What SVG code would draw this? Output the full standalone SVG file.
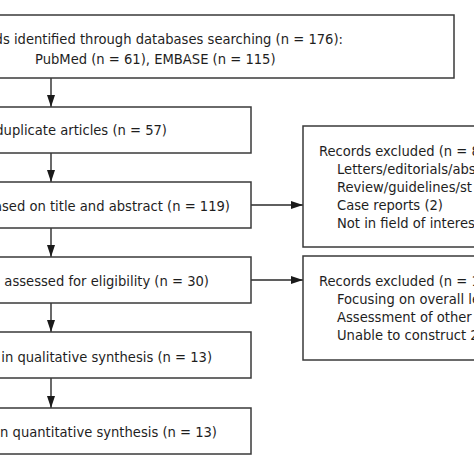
<svg xmlns="http://www.w3.org/2000/svg" width="474" height="474" viewBox="0 0 474 474">
<defs>
<marker id="ah" viewBox="0 0 12 8" refX="12" refY="4" markerWidth="12" markerHeight="8" markerUnits="userSpaceOnUse" orient="auto">
<path d="M0,0 L12,4 L0,8 Z" fill="#1a1a1a"/>
</marker>
<style>
.box{fill:#fff;stroke:#3a3a3a;stroke-width:1.5}
.t{font-family:"DejaVu Sans Condensed","Liberation Sans",Arial,sans-serif;font-size:14.6px;fill:#1e1e1e}
.e{text-anchor:end}
.c{stroke:#2a2a2a;stroke-width:1.4;fill:none;marker-end:url(#ah)}
</style>
</defs>
<rect width="474" height="474" fill="#fff"/>
<g id="connectors">
<line class="c" x1="51" y1="78" x2="51" y2="107"/>
<line class="c" x1="51" y1="153" x2="51" y2="182"/>
<line class="c" x1="51" y1="228" x2="51" y2="257"/>
<line class="c" x1="51" y1="303" x2="51" y2="332"/>
<line class="c" x1="51" y1="378" x2="51" y2="408"/>
<line class="c" x1="251" y1="205" x2="303" y2="205"/>
<line class="c" x1="251" y1="280" x2="303" y2="280"/>
</g>
<g id="n1">
<rect class="box" x="-20" y="15" width="474" height="63"/>
<text class="t e" x="343" y="44">ds identified through databases searching (n = 176):</text>
<text class="t" x="35" y="64">PubMed (n = 61), EMBASE (n = 115)</text>
</g>
<g id="n2">
<rect class="box" x="-20" y="107" width="271" height="46"/>
<text class="t e" x="167" y="135">duplicate articles (n = 57)</text>
</g>
<g id="n3">
<rect class="box" x="-20" y="182" width="271" height="46"/>
<text class="t e" x="230" y="211">ased on title and abstract (n = 119)</text>
</g>
<g id="n4">
<rect class="box" x="-20" y="257" width="271" height="46"/>
<text class="t e" x="209" y="286">assessed for eligibility (n = 30)</text>
</g>
<g id="n5">
<rect class="box" x="-20" y="332" width="271" height="46"/>
<text class="t e" x="212" y="362">in qualitative synthesis (n = 13)</text>
</g>
<g id="n6">
<rect class="box" x="-20" y="408" width="271" height="46"/>
<text class="t e" x="217" y="437">n quantitative synthesis (n = 13)</text>
</g>
<g id="n7">
<rect class="box" x="303" y="126" width="200" height="121"/>
<text class="t" x="319" y="156">Records excluded (n = 8</text>
<text class="t" x="337" y="174">Letters/editorials/abs</text>
<text class="t" x="337" y="192">Review/guidelines/st</text>
<text class="t" x="337" y="210">Case reports (2)</text>
<text class="t" x="337" y="228">Not in field of interes</text>
</g>
<g id="n8">
<rect class="box" x="303" y="256" width="200" height="104"/>
<text class="t" x="319" y="286">Records excluded (n = 1</text>
<text class="t" x="337" y="304">Focusing on overall le</text>
<text class="t" x="337" y="322">Assessment of other</text>
<text class="t" x="337" y="340">Unable to construct 2</text>
</g>
</svg>
